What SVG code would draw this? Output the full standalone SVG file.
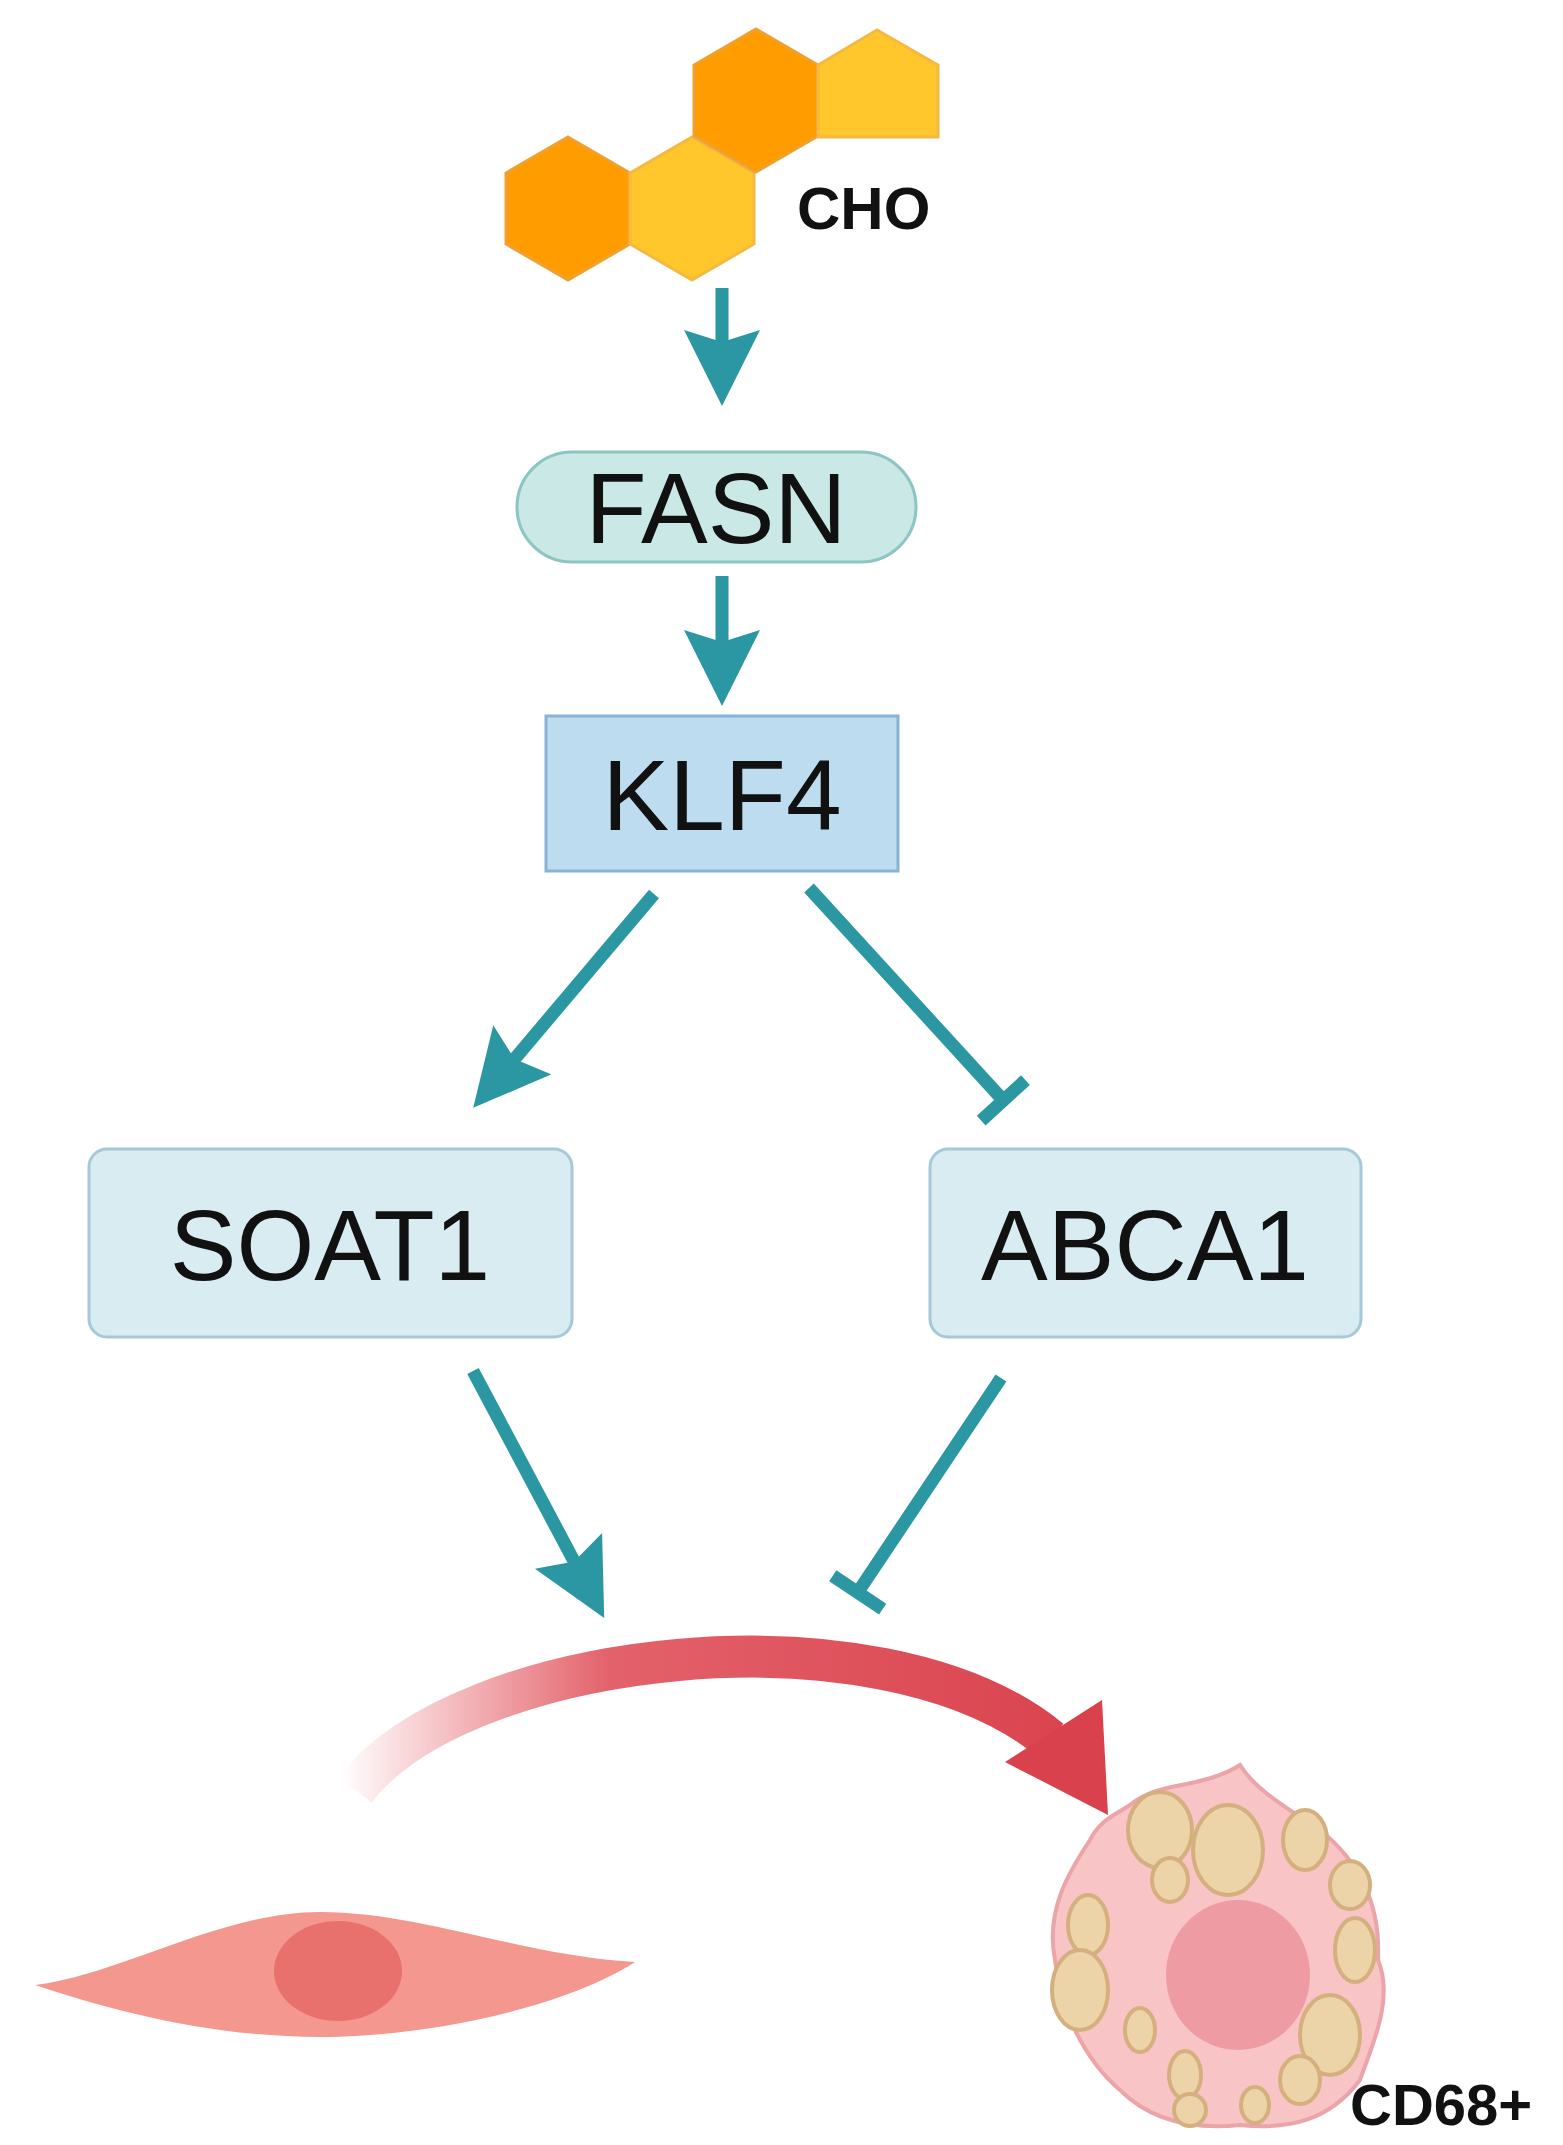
<svg xmlns="http://www.w3.org/2000/svg" width="1563" height="2145" viewBox="0 0 1563 2145">
<style>
.lbl{font-family:"Liberation Sans",Arial,sans-serif;font-size:100px;fill:#111;text-anchor:middle}
.sm{font-family:"Liberation Sans",Arial,sans-serif;font-weight:bold;fill:#111}
.edge{stroke:#2B97A3;stroke-width:13;fill:none}
.drop{fill:#EDD3A8;stroke:#D5B07F;stroke-width:4}
</style>
<defs>
<marker id="arr" markerUnits="userSpaceOnUse" markerWidth="80" markerHeight="80" refX="50" refY="38" orient="auto">
<path d="M0,0 L76,38 L0,76 L12,38 z" fill="#2B97A3"/>
</marker>
<marker id="tee" markerUnits="userSpaceOnUse" markerWidth="20" markerHeight="70" refX="10" refY="35" orient="auto">
<rect x="4" y="5" width="13" height="60" fill="#2B97A3"/>
</marker>
<linearGradient id="red" x1="340" y1="0" x2="1110" y2="0" gradientUnits="userSpaceOnUse">
<stop offset="0" stop-color="#E24B55" stop-opacity="0"/>
<stop offset="0.35" stop-color="#E0505A" stop-opacity="0.9"/>
<stop offset="1" stop-color="#D9414C"/>
</linearGradient>
</defs>
<g id="cho">
<polygon points="568,137 630,173 630,244 568,280 506,244 506,173" fill="#FF9D00" stroke="#F0A030" stroke-width="3"/>
<polygon points="692,137 754,173 754,244 692,280 630,244 630,173" fill="#FFC72C" stroke="#F5B840" stroke-width="3"/>
<polygon points="756,29 818,65 818,136 756,172 694,136 694,65" fill="#FF9D00" stroke="#F0A030" stroke-width="3"/>
<polygon points="877,30 938,65 938,137 818,137 818,65" fill="#FFC72C" stroke="#F5B840" stroke-width="3"/>
<text class="sm" x="797" y="229" font-size="60">CHO</text>
</g>
<g id="FASN">
<rect x="517" y="452" width="399" height="110" rx="55" fill="#C9E8E6" stroke="#8CC5C1" stroke-width="3"/>
<text class="lbl" x="716" y="543">FASN</text>
</g>
<g id="KLF4">
<rect x="546" y="716" width="352" height="155" fill="#BEDCF0" stroke="#86B3D6" stroke-width="3"/>
<text class="lbl" x="722" y="830">KLF4</text>
</g>
<g id="SOAT1">
<rect x="89" y="1149" width="483" height="188" rx="18" fill="#D8ECF2" stroke="#A6C8D8" stroke-width="3"/>
<text class="lbl" x="330" y="1280">SOAT1</text>
</g>
<g id="ABCA1">
<rect x="930" y="1149" width="431" height="188" rx="18" fill="#D8ECF2" stroke="#A6C8D8" stroke-width="3"/>
<text class="lbl" x="1145" y="1280">ABCA1</text>
</g>
<g id="connectors">
<line class="edge" x1="722" y1="288" x2="722" y2="380" marker-end="url(#arr)"/>
<line class="edge" x1="722" y1="576" x2="722" y2="680" marker-end="url(#arr)"/>
<line class="edge" x1="654" y1="894" x2="490" y2="1088" marker-end="url(#arr)"/>
<line class="edge" x1="809" y1="888" x2="1003" y2="1100" marker-end="url(#tee)"/>
<line class="edge" x1="473" y1="1371" x2="592" y2="1595" marker-end="url(#arr)"/>
<line class="edge" x1="1001" y1="1378" x2="858" y2="1592" marker-end="url(#tee)"/>
<path d="M355,1790 C460,1650 880,1600 1050,1740" fill="none" stroke="url(#red)" stroke-width="42"/>
<polygon points="1108,1815 1005,1762 1102,1700" fill="#D9414C"/>
</g>
<g id="smc">
<path d="M35,1985 C120,1975 220,1912 320,1912 C420,1912 520,1955 635,1962 C560,2010 420,2037 320,2037 C210,2037 110,2010 35,1985 z" fill="#F4978E"/>
<ellipse cx="338" cy="1971" rx="64" ry="50" fill="#E8716D"/>
</g>
<g id="foamcell">
<path d="M1130,1805 C1160,1780 1200,1790 1240,1765 C1255,1790 1290,1810 1320,1830 C1370,1870 1380,1920 1378,1960 C1395,2000 1370,2050 1360,2080 C1330,2120 1290,2130 1240,2125 C1190,2130 1150,2120 1120,2090 C1085,2060 1060,2010 1055,1960 C1045,1910 1070,1870 1090,1840 C1100,1820 1115,1815 1130,1805 z" fill="#F8C4C6" stroke="#EBA5A9" stroke-width="4"/>
<ellipse cx="1238" cy="1975" rx="72" ry="75" fill="#EE9BA3"/>
<ellipse class="drop" cx="1160" cy="1830" rx="32" ry="38"/>
<ellipse class="drop" cx="1228" cy="1850" rx="35" ry="45"/>
<ellipse class="drop" cx="1305" cy="1840" rx="22" ry="30"/>
<ellipse class="drop" cx="1170" cy="1880" rx="18" ry="22"/>
<ellipse class="drop" cx="1350" cy="1885" rx="20" ry="24"/>
<ellipse class="drop" cx="1088" cy="1925" rx="20" ry="30"/>
<ellipse class="drop" cx="1080" cy="1990" rx="28" ry="40"/>
<ellipse class="drop" cx="1355" cy="1950" rx="20" ry="32"/>
<ellipse class="drop" cx="1330" cy="2035" rx="30" ry="40"/>
<ellipse class="drop" cx="1140" cy="2030" rx="15" ry="22"/>
<ellipse class="drop" cx="1185" cy="2075" rx="16" ry="24"/>
<ellipse class="drop" cx="1300" cy="2080" rx="20" ry="24"/>
<ellipse class="drop" cx="1190" cy="2110" rx="16" ry="16"/>
<ellipse class="drop" cx="1255" cy="2105" rx="14" ry="18"/>
<text class="sm" x="1350" y="2125" font-size="58">CD68+</text>
</g>
</svg>
